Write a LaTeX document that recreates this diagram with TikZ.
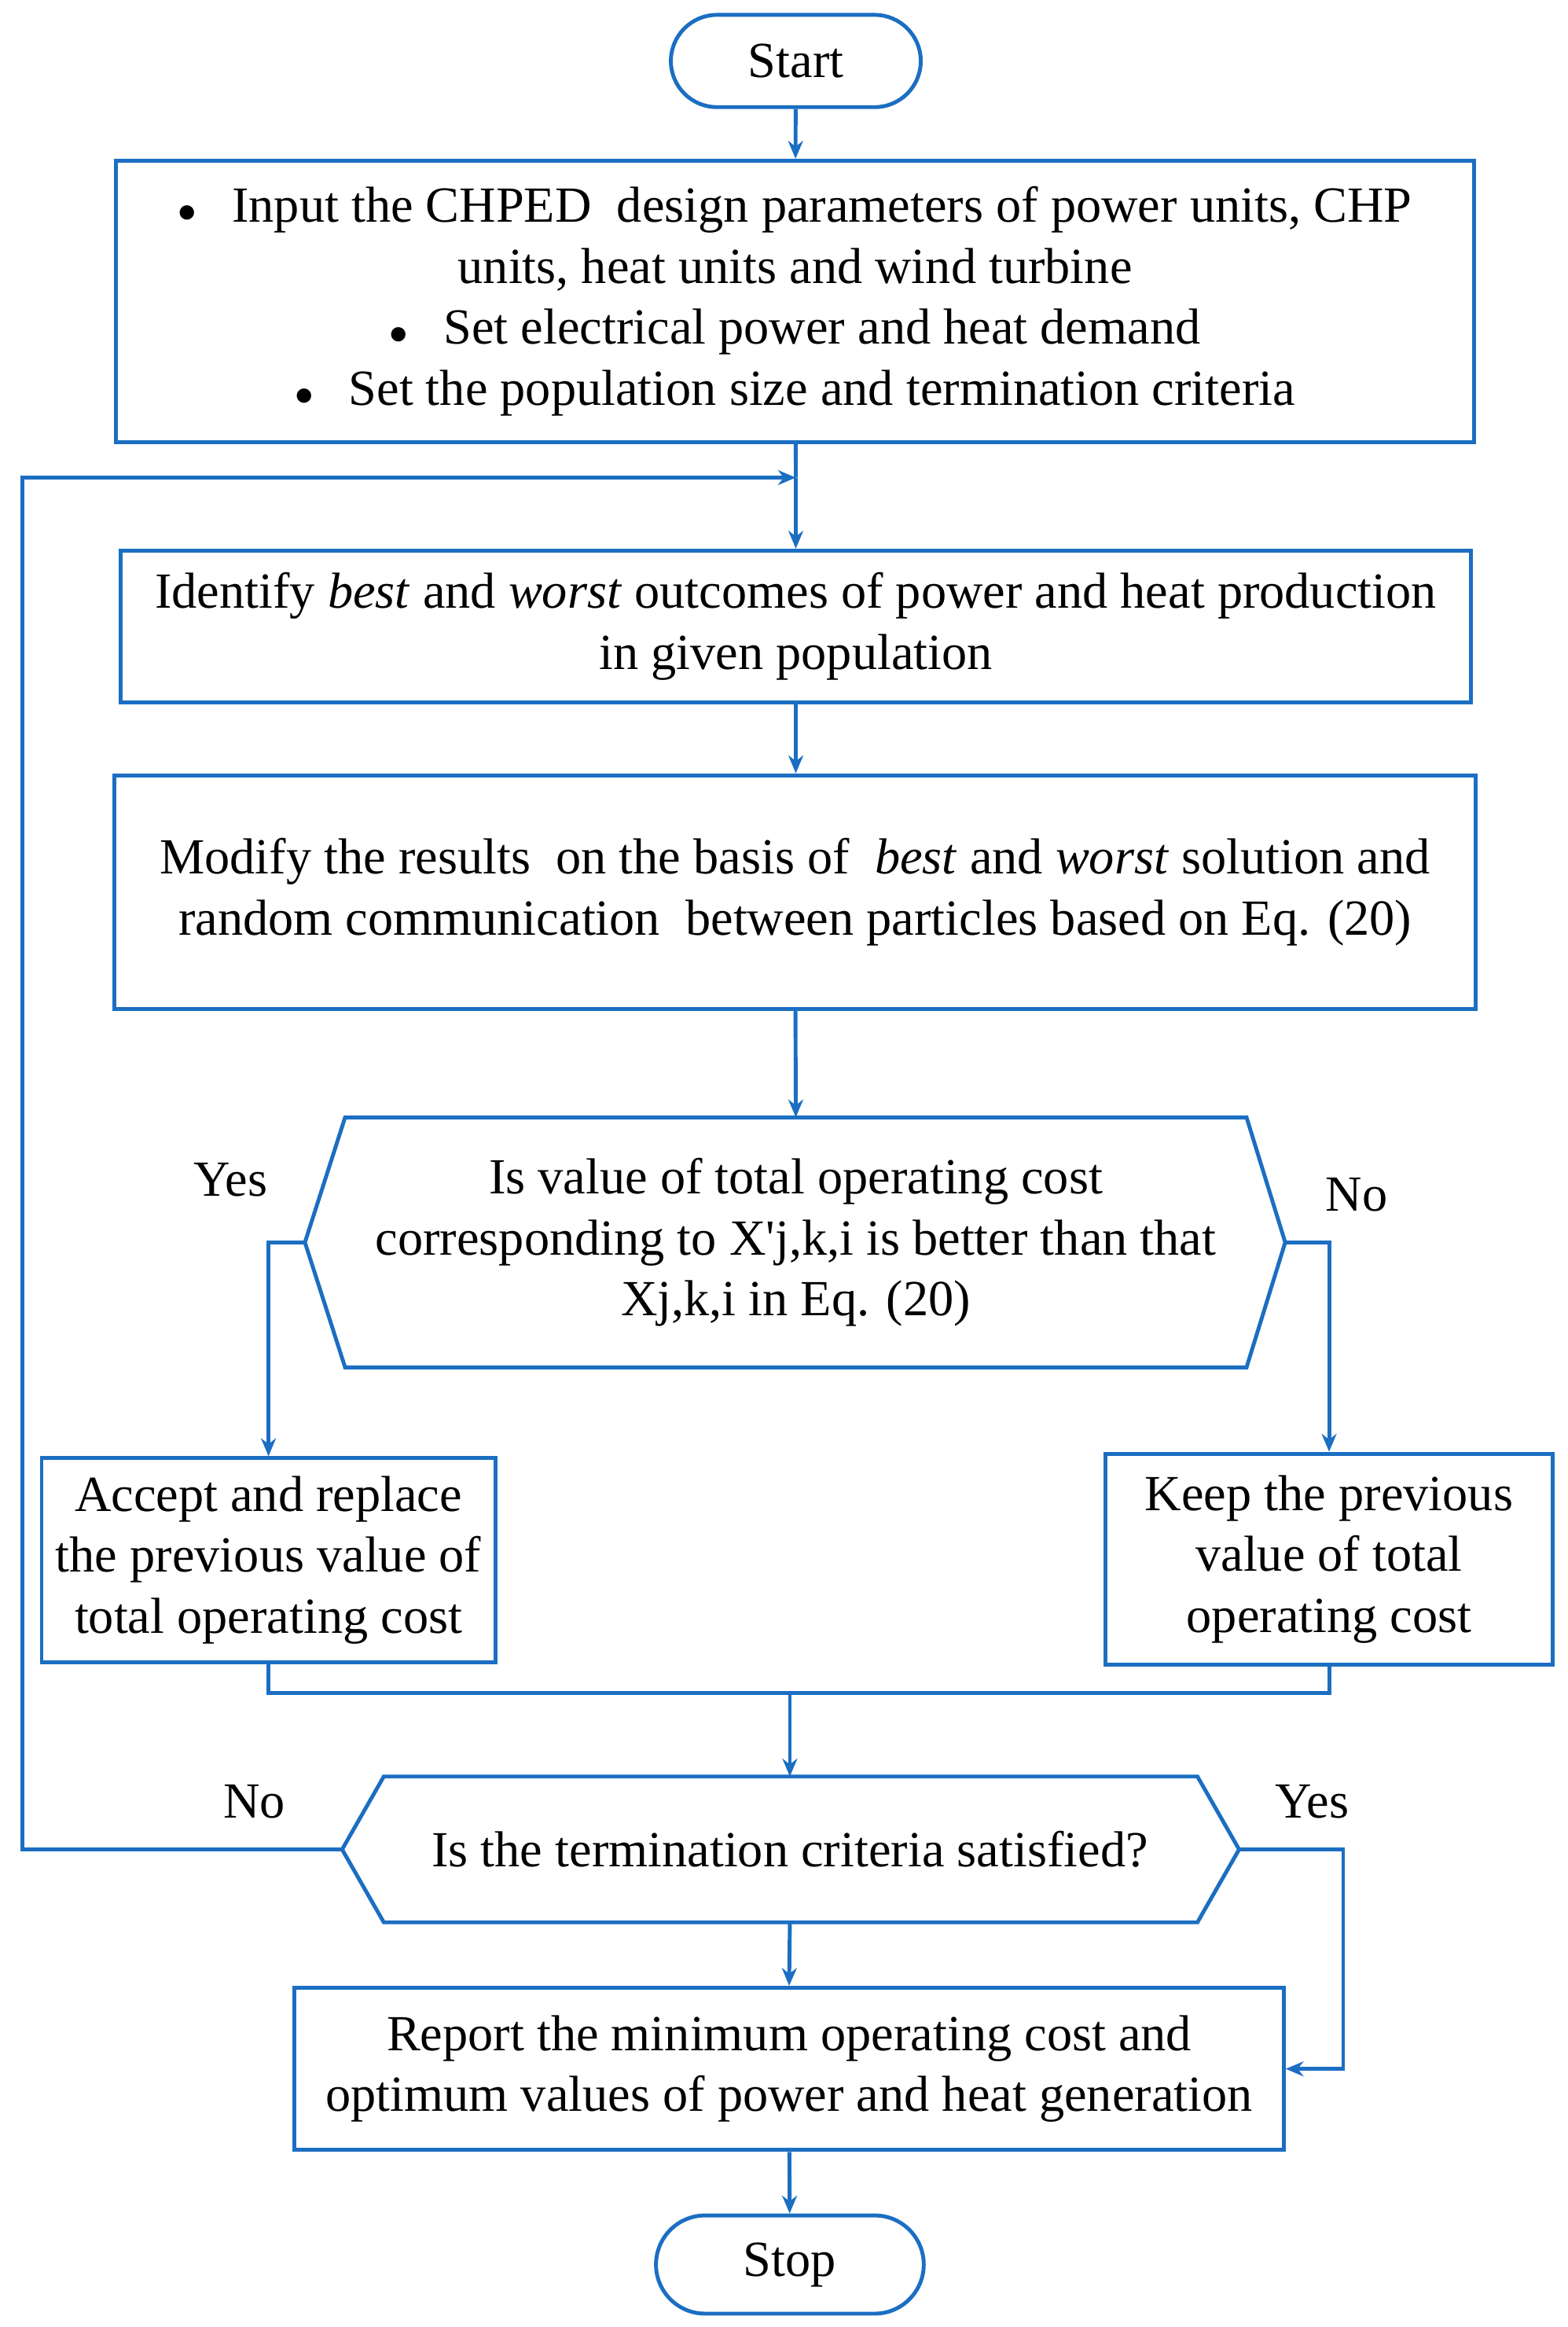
\documentclass[tikz,border=0pt]{standalone}
\usepackage{fontspec}
\setmainfont{Liberation Serif}
\usetikzlibrary{arrows.meta}
\begin{document}
\begin{tikzpicture}[x=1pt,y=-1pt,
  every node/.style={font=\fontsize{34}{41}\selectfont},
  ln/.style={draw=fc,line width=2.6pt},
  arr/.style={ln,-{Stealth[length=12pt,width=10pt]}},
  box/.style={ln,rectangle,align=center,inner sep=0pt}]
\definecolor{fc}{HTML}{1B6EC2}
\newcommand{\bul}{$\bullet$\hspace{0.7em}}
\useasboundingbox (0,0) rectangle (1054,1564);
% terminals
\node[ln,rounded corners=31pt,minimum width=168pt,minimum height=62pt] (start) at (535,41) {Start};
\node[ln,rounded corners=33pt,minimum width=180pt,minimum height=66pt] (stop) at (531,1522) {Stop};
% boxes
\node[box,minimum width=913pt,minimum height=189pt] (b1) at (534.5,202.5) {\bul Input the CHPED\ \ design parameters of power units, CHP\\ units, heat units and wind turbine\\ \bul Set electrical power and heat demand\\ \bul Set the population size and termination criteria};
\node[box,minimum width=908pt,minimum height=102pt] (b2) at (535,421) {Identify \textit{best} and \textit{worst} outcomes of power and heat production\\ in given population};
\node[box,minimum width=915pt,minimum height=157pt] (b3) at (534.5,599.5) {Modify the results\ \ on the basis of\ \ \textit{best} and \textit{worst} solution and\\ random communication\ \ between particles based on Eq. (20)};
\node[box,minimum width=305pt,minimum height=137pt] (b4) at (180.5,1048.5) {Accept and replace\\ the previous value of\\ total operating cost};
\node[box,minimum width=301pt,minimum height=142pt] (b5) at (893.5,1048) {Keep the previous\\ value of total\\ operating cost};
\node[box,minimum width=665pt,minimum height=109pt] (b6) at (530.5,1390.5) {Report the minimum operating cost and\\ optimum values of power and heat generation};
% hexagon 1
\coordinate (h1l) at (205,835); \coordinate (h1r) at (864,835);
\coordinate (h1t) at (535,751);
\draw[ln] (h1l) -- (232,751) -- (838,751) -- (h1r) -- (838,919) -- (232,919) -- cycle;
\node[align=center] (h1) at (535,835) {Is value of total operating cost\\ corresponding to X\textquotesingle j,k,i is better than that\\ Xj,k,i in Eq. (20)};
% hexagon 2
\coordinate (h2l) at (230,1243); \coordinate (h2r) at (833,1243);
\coordinate (h2t) at (531,1194); \coordinate (h2b) at (531,1292);
\draw[ln] (h2l) -- (258,1194) -- (805,1194) -- (h2r) -- (805,1292) -- (258,1292) -- cycle;
\node (h2) at (531,1243) {Is the termination criteria satisfied?};
% labels
\node (y1) at (155,793) {Yes};
\node (n1) at (912,803) {No};
\node (n2) at (171,1211) {No};
\node (y2) at (882,1211) {Yes};
% connectors
\coordinate (j1) at (535,321);
\coordinate (lp1) at (15,1243); \coordinate (lp2) at (15,321);
\coordinate (m) at (531,1138);
\draw[arr] (start) -- (b1);
\draw[ln] (b1) -- (j1);
\draw[arr] (j1) -- (b2);
\draw[arr] (b2) -- (b2 |- b3.north);
\draw[arr] (b3) -- (h1t);
\draw[arr] (h1l) -| (b4.north);
\draw[arr] (h1r) -| (b5.north);
\draw[ln] (b4.south) |- (m) -| (b5.south);
\draw[arr] (m) -- (h2t);
\draw[arr] (h2l) -- (lp1) -- (lp2) -- (j1);
\draw[arr] (h2b) -- (b6.north);
\draw[arr] (h2r) -- (903,1243) |- (b6.east);
\draw[arr] (b6) -- (stop);
\end{tikzpicture}
\end{document}
